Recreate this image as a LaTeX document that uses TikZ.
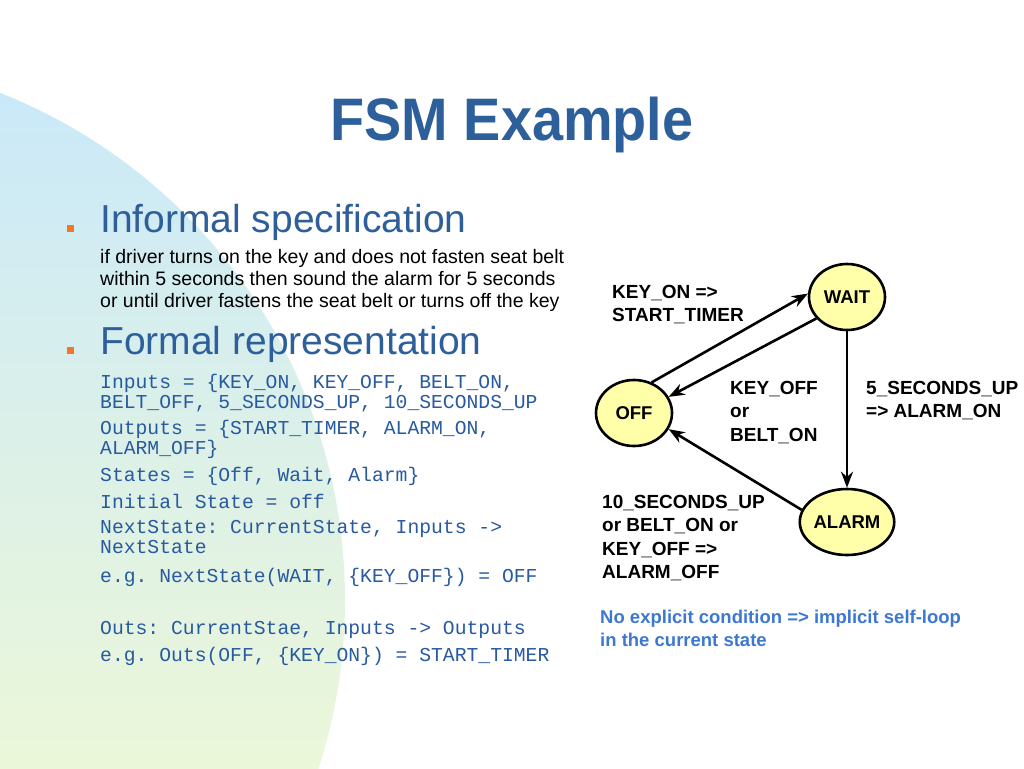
\documentclass[tikz,border=0pt]{standalone}
\usepackage{fontspec}
\setmainfont{Liberation Sans}
\setmonofont{Liberation Mono}
\usetikzlibrary{arrows.meta,shapes.geometric}
\definecolor{ttl}{RGB}{45,95,155}
\definecolor{mono}{RGB}{40,90,160}
\definecolor{note}{RGB}{60,120,210}
\definecolor{st}{RGB}{255,255,170}
\definecolor{bul}{RGB}{240,120,40}
\begin{document}
\begin{tikzpicture}[x=1pt,y=-1pt,
  state/.style={draw,line width=2.6pt,fill=st,ellipse,minimum width=76pt,minimum height=66pt,inner sep=0pt,font=\bfseries\fontsize{18.5}{18.5}\selectfont},
  tr/.style={-{Stealth[length=16pt,width=12pt]},line width=2.6pt},
  lab/.style={align=left,anchor=north west,inner sep=0pt,font=\bfseries\fontsize{19}{23.5}\selectfont},
  mt/.style={anchor=north west,inner sep=0pt,align=left,text=mono,font=\ttfamily\fontsize{19.7}{20}\selectfont},
  sm/.style={anchor=north west,inner sep=0pt,align=left,font=\fontsize{19.5}{22}\selectfont},
  big/.style={anchor=west,inner sep=0pt,text=ttl,font=\fontsize{39}{39}\selectfont},
  bl/.style={fill=bul,minimum size=7pt,inner sep=0pt}]
\useasboundingbox (0,0) rectangle (1024,768);
\fill[white] (0,0) rectangle (1024,768);
\begin{scope}
\clip (0,0) rectangle (1024,768);
\shade[top color={rgb,255:red,200;green,232;blue,250},bottom color={rgb,255:red,255;green,255;blue,200}] (-200,600) circle (545);
\end{scope}
\node[text=ttl,font=\bfseries\fontsize{60}{60}\selectfont,xscale=0.93] (title) at (512,125) {FSM Example};
\node[bl] (b1) at (70,228) {};
\node[big] (h1) at (100,222) {Informal specification};
\node[sm] (p1) at (100,249) {if driver turns on the key and does not fasten seat belt\\within 5 seconds then sound the alarm for 5 seconds\\or until driver fastens the seat belt or turns off the key};
\node[bl] (b2) at (70,350) {};
\node[big] (h2) at (100,344) {Formal representation};
\node[mt] (m1) at (100,374) {Inputs = \{KEY\_ON, KEY\_OFF, BELT\_ON,\\BELT\_OFF, 5\_SECONDS\_UP, 10\_SECONDS\_UP};
\node[mt] (m2) at (100,420) {Outputs = \{START\_TIMER, ALARM\_ON,\\ALARM\_OFF\}};
\node[mt] (m3) at (100,467) {States = \{Off, Wait, Alarm\}};
\node[mt] (m4) at (100,494) {Initial State = off};
\node[mt] (m5) at (100,520) {NextState: CurrentState, Inputs ->\\NextState};
\node[mt] (m6) at (100,568) {e.g. NextState(WAIT, \{KEY\_OFF\}) = OFF};
\node[mt] (m7) at (100,621) {Outs: CurrentStae, Inputs -> Outputs};
\node[mt] (m8) at (100,647) {e.g. Outs(OFF, \{KEY\_ON\}) = START\_TIMER};
\node[state] (wait) at (847,297) {WAIT};
\node[state] (off) at (634,413) {OFF};
\node[state] (alarm) at (847,522) {ALARM};
\draw[tr] (off.60) -- (wait.175);
\draw[tr] (wait.215) -- (off.25);
\draw[tr] (wait) -- (alarm);
\draw[tr] (alarm.165) -- (off.-25);
\node[lab] (l1) at (612,285) {KEY\_ON =>\\START\_TIMER};
\node[lab] (l2) at (730,381) {KEY\_OFF\\or\\BELT\_ON};
\node[lab] (l3) at (866,381) {5\_SECONDS\_UP\\=> ALARM\_ON};
\node[lab] (l4) at (602,495) {10\_SECONDS\_UP\\or BELT\_ON or\\KEY\_OFF =>\\ALARM\_OFF};
\node[lab,text=note,font=\bfseries\fontsize{18.5}{23}\selectfont] (nt) at (600,610) {No explicit condition => implicit self-loop\\in the current state};
\end{tikzpicture}
\end{document}
